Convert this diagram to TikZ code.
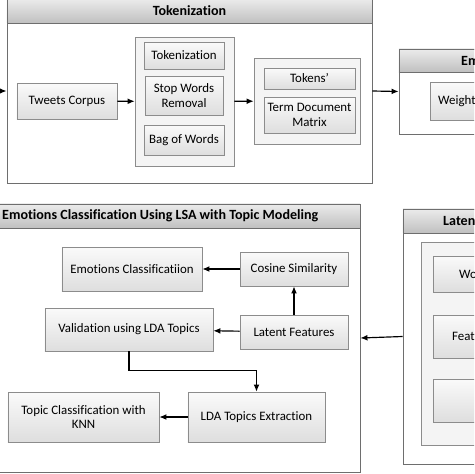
\documentclass[tikz,border=0pt]{standalone}
\usepackage{fontspec}
\setmainfont{Carlito}[Ligatures=NoCommon]
\usetikzlibrary{arrows.meta, positioning, calc}
\definecolor{boxline}{RGB}{140,140,140}
\definecolor{grpline}{RGB}{110,110,110}
\definecolor{boxtop}{RGB}{250,250,250}
\definecolor{boxbot}{RGB}{222,222,222}
\definecolor{headtop}{RGB}{235,235,235}
\definecolor{headbot}{RGB}{192,192,192}
\definecolor{grpfill}{RGB}{244,244,244}

\begin{document}
\begin{tikzpicture}[
    x=0.03cm, y=-0.03cm,
    font=\fontsize{11}{12.5}\selectfont,
    group/.style={rectangle, draw=grpline, fill=white, line width=0.7pt},
    subgroup/.style={rectangle, draw=boxline, fill=grpfill, line width=0.6pt},
    header/.style={rectangle, draw=grpline, line width=0.7pt, top color=headtop, bottom color=headbot, font=\fontsize{12}{14}\selectfont\bfseries},
    block/.style={rectangle, draw=boxline, line width=0.6pt, top color=boxtop, bottom color=boxbot, align=center, inner sep=2pt},
    tag/.style={anchor=west, inner sep=0pt},
    arrow/.style={-{Latex[length=6pt,width=5pt]}, line width=1pt, black}
]
    \useasboundingbox (0,0) rectangle (474,474);
    \clip (0,0) rectangle (474,474);

    % Tokenization
    \node (tokgrp) [group, minimum width=10.95cm, minimum height=5.52cm] at (189.5,91) {};
    \node (tokhead) [header, anchor=north, minimum width=10.95cm, minimum height=0.72cm] at (tokgrp.north) {Tokenization};
    \node (corpus) [block, minimum width=3cm, minimum height=1.08cm] at (67,101) {Tweets Corpus};
    \node (prep) [subgroup, minimum width=2.97cm, minimum height=3.87cm] at (184.5,101.5) {};
    \node (tok) [block, minimum width=2.4cm, minimum height=0.81cm] at (184,55.5) {Tokenization};
    \node (stop) [block, minimum width=2.34cm, minimum height=1.17cm] at (184,95.5) {Stop Words\\Removal};
    \node (bag) [block, minimum width=2.4cm, minimum height=0.9cm] at (184,140) {Bag of Words};
    \node (tdmgrp) [subgroup, minimum width=3.18cm, minimum height=2.58cm] at (307,101) {};
    \node (tokens) [block, minimum width=2.73cm, minimum height=0.63cm] at (309.5,78.5) {Tokens’};
    \node (matrix) [block, minimum width=2.73cm, minimum height=1.08cm] at (309.5,115) {Term Document\\Matrix};

    % Emotion weighting (cut off)
    \node (emgrp) [group, minimum width=7.83cm, minimum height=2.55cm] at (529.5,91.5) {};
    \node (emhead) [header, anchor=north, minimum width=7.83cm, minimum height=0.69cm] at (emgrp.north) {};
    \node (emtitle) [tag, font=\fontsize{12}{14}\selectfont\bfseries] at (461,60.5) {Emotion};
    \node (weight) [block, minimum width=6.3cm, minimum height=1.14cm] at (535,101) {};
    \node (weighttxt) [tag] at (438,101) {Weighting};

    % Emotions classification
    \node (lsa) [group, minimum width=10.86cm, minimum height=8.04cm] at (179,338) {};
    \node (lsahead) [header, anchor=north, minimum width=10.86cm, minimum height=0.72cm] at (lsa.north) {};
    \node (lsatitle) [tag, font=\fontsize{12}{14}\selectfont\bfseries] at (2,216) {Emotions Classification Using LSA with Topic Modeling};
    \node (emo) [block, minimum width=4.2cm, minimum height=1.32cm] at (132,269) {Emotions Classificatiion};
    \node (cos) [block, minimum width=3.24cm, minimum height=1.02cm] at (294,269) {Cosine Similarity};
    \node (valid) [block, minimum width=5.04cm, minimum height=1.29cm] at (129,329.5) {Validation using LDA Topics};
    \node (lat) [block, minimum width=3.24cm, minimum height=1.02cm] at (294,332) {Latent Features};
    \node (knn) [block, minimum width=4.53cm, minimum height=1.5cm] at (83.5,417) {Topic Classification with\\KNN};
    \node (lda) [block, minimum width=4.11cm, minimum height=1.5cm] at (256.5,417) {LDA Topics Extraction};

    % Latent semantic analysis (cut off)
    \node (latgrp) [group, minimum width=7.8cm, minimum height=7.65cm] at (533,336.5) {};
    \node (lathead) [header, anchor=north, minimum width=7.8cm, minimum height=0.72cm] at (latgrp.north) {};
    \node (lattitle) [tag, font=\fontsize{12}{14}\selectfont\bfseries] at (443,221) {Latent};
    \node (latin) [subgroup, minimum width=6.72cm, minimum height=6.09cm] at (533,343.5) {};
    \node (w1) [block, minimum width=6cm, minimum height=1.08cm] at (533,274) {};
    \node (w2) [block, minimum width=6cm, minimum height=1.29cm] at (533,336.5) {};
    \node (w3) [block, minimum width=6cm, minimum height=1.29cm] at (533,400.5) {};
    \node (w1txt) [tag] at (459,274) {Word};
    \node (w2txt) [tag] at (452,336.5) {Feature};

    \coordinate (src) at (-20,91);
    \draw [arrow] (src) -- (tokgrp.west);
    \draw [arrow] (corpus) -- (prep);
    \draw [arrow] (prep) -- (tdmgrp);
    \draw [arrow] (tokgrp.east) -- (emgrp.west);
    \draw [arrow] (latgrp.west) -- (lsa.east);
    \draw [arrow] (cos) -- (emo);
    \draw [arrow] (lat) -- (cos);
    \draw [arrow] (lat) -- (valid);
    \draw [arrow] (valid.south) -- ++(0,19) -| (lda.north);
    \draw [arrow] (lda) -- (knn);
\end{tikzpicture}
\end{document}
